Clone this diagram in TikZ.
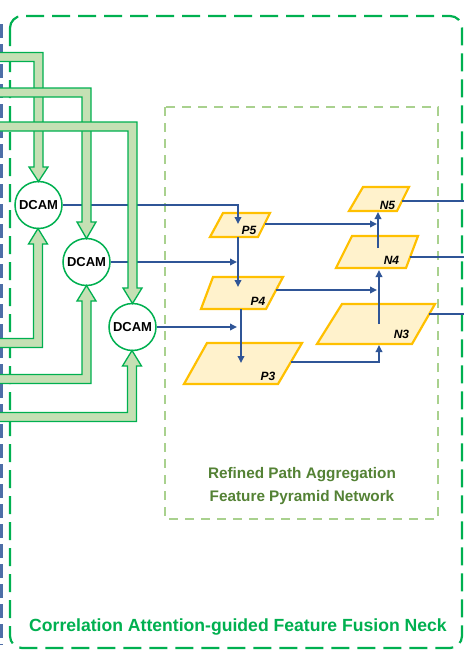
\documentclass[tikz,border=0pt]{standalone}
\usepackage{fontspec}
\setmainfont{Liberation Sans}
\usetikzlibrary{arrows.meta}
\definecolor{gline}{HTML}{00B050}
\definecolor{gfill}{HTML}{C5E0B4}
\definecolor{gbox}{HTML}{A9D18E}
\definecolor{gtext}{HTML}{548235}
\definecolor{blu}{HTML}{2F5597}
\definecolor{pfill}{HTML}{FFF2CC}
\definecolor{pline}{HTML}{FFC000}
\newcommand\bandpath[5]{\filldraw[band] (0,{#1-#5}) -- ({#2+4.5},{#1-#5}) -- ({#2+4.5},#3) -- ({#2+9.5},#3) -- (#2,#4) -- ({#2-9.5},#3) -- ({#2-4.5},#3) -- ({#2-4.5},{#1+#5}) -- (0,{#1+#5});}
\begin{document}
\begin{tikzpicture}[x=1pt,y=-1pt,
  dcam/.style={circle,draw=gline,fill=white,line width=1.5pt,minimum size=47pt,inner sep=0pt,font=\fontsize{13}{15}\selectfont\bfseries},
  par/.style={draw=pline,fill=pfill,line width=2.2pt,line join=miter},
  plab/.style={inner sep=0pt,font=\fontsize{12}{14}\selectfont\bfseries\itshape},
  conn/.style={draw=blu,line width=2pt,-{Triangle[length=7pt,width=6.5pt]}},
  feed/.style={draw=blu,line width=2pt},
  band/.style={draw=gline,fill=gfill,line width=1.3pt,line join=miter},
  outerbox/.style={draw=gline,line width=2.2pt,dash pattern=on 18pt off 8pt,rounded corners=12pt},
  innerbox/.style={draw=gbox,line width=2pt,dash pattern=on 9pt off 7pt},
  sidebar/.style={draw=blu!85!white,line width=3pt,dash pattern=on 14pt off 6pt}]
\useasboundingbox (0,0) rectangle (464,656);
\fill[white] (0,0) rectangle (464,656);
% boxes
\draw[sidebar] (1.5,24) -- (1.5,645);
\draw[outerbox] (10,16) rectangle (462,648);
\draw[innerbox] (165,107) rectangle (438,519);
% pyramid levels
\draw[par] (223,213) -- (270,213) -- (258,237) -- (210,237) -- cycle;
\draw[par] (213,277) -- (283,277) -- (266,309) -- (201,309) -- cycle;
\draw[par] (207,343) -- (302,343) -- (278,384) -- (184,384) -- cycle;
\draw[par] (363,187) -- (409,187) -- (397,211) -- (349,211) -- cycle;
\draw[par] (352,236) -- (418,236) -- (406,268) -- (336,268) -- cycle;
\draw[par] (342,304) -- (435,304) -- (412,344) -- (317,344) -- cycle;
\node[plab] (P5) at (249,230) {P5};
\node[plab] (P4) at (258,301.5) {P4};
\node[plab] (P3) at (268,376.5) {P3};
\node[plab] (N5) at (387.5,205) {N5};
\node[plab] (N4) at (391.5,260.5) {N4};
\node[plab] (N3) at (401.5,334.5) {N3};
% DCAM modules
\node[dcam] (d1) at (38.5,205) {DCAM};
\node[dcam] (d2) at (86.5,262) {DCAM};
\node[dcam] (d3) at (132.5,327) {DCAM};
% connection points
\coordinate (p5in) at (238,224);
\coordinate (j2) at (237,262);
\coordinate (p5b) at (238,237);
\coordinate (p4in) at (238,287);
\coordinate (j3) at (237,327);
\coordinate (p4b) at (241,309);
\coordinate (p3in) at (241,363);
\coordinate (p3r) at (291,362);
\coordinate (n3in) at (379,345);
\coordinate (n3s) at (379,324);
\coordinate (n4in) at (379,270);
\coordinate (n4s) at (378,248);
\coordinate (n5in) at (378,212);
\coordinate (p4r) at (276,290);
\coordinate (k4) at (377,290);
\coordinate (p5r) at (264.5,224);
\coordinate (k5) at (377,224);
\coordinate (n5r) at (402,201);
\coordinate (o5) at (464,201);
\coordinate (n4r) at (410,257);
\coordinate (o4) at (464,257);
\coordinate (n3r) at (429,314);
\coordinate (o3) at (464,314);
% blue connectors
\draw[conn] (d1.east) -| (p5in);
\draw[conn] (d2.east) -- (j2);
\draw[conn] (p5b) -- (p4in);
\draw[conn] (d3.east) -- (j3);
\draw[conn] (p4b) -- (p3in);
\draw[conn] (p3r) -| (n3in);
\draw[conn] (n3s) -- (n4in);
\draw[conn] (n4s) -- (n5in);
\draw[conn] (p4r) -- (k4);
\draw[conn] (p5r) -- (k5);
\draw[feed] (n5r) -- (o5);
\draw[feed] (n4r) -- (o4);
\draw[feed] (n3r) -- (o3);
% green feature bands
\bandpath{57}{38.5}{167}{181.5}{4.5}
\bandpath{92.5}{86.5}{222}{238.5}{4.5}
\bandpath{126.5}{132.5}{288}{303.5}{4.5}
\bandpath{343}{38}{244}{228.5}{-4.5}
\bandpath{379}{86.5}{301}{285.5}{-4.5}
\bandpath{417}{132}{366}{350.5}{-4.5}
% labels
\node[align=center,text=gtext,font=\fontsize{15.3}{23}\selectfont\bfseries] (fpn) at (302,486) {Refined Path Aggregation\\Feature Pyramid Network};
\node[text=gline,font=\fontsize{17.6}{20}\selectfont\bfseries] (neck) at (238,626.5) {Correlation Attention-guided Feature Fusion Neck};
\end{tikzpicture}
\end{document}
